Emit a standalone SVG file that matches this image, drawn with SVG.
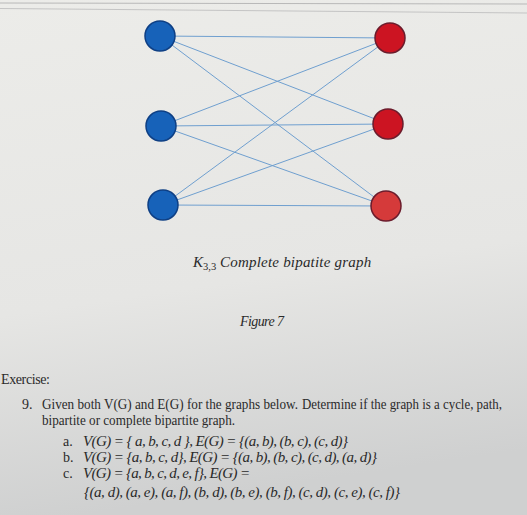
<svg xmlns="http://www.w3.org/2000/svg" width="527" height="515" viewBox="0 0 527 515">
<defs>
<linearGradient id="bg" x1="0" y1="0" x2="0.15" y2="1">
<stop offset="0" stop-color="#ecece9"/>
<stop offset="0.6" stop-color="#e6e6e4"/>
<stop offset="1" stop-color="#cfd0d0"/>
</linearGradient>
<style>
.edge{stroke:#6f9fcf;stroke-width:1;fill:none}
.blue{fill:#1762b9;stroke:#0e3f84;stroke-width:1.5}
.red{fill:#cc1422;stroke:#6b1c2c;stroke-width:1.5}
.red2{fill:#d53a3a;stroke:#6b1c2c;stroke-width:1.5}
.t{font-family:"Liberation Serif",serif;font-size:14px;fill:#2a2a2a}
.m{font-family:"Liberation Serif",serif;font-style:italic;font-size:15px;fill:#2a2a2a}
</style>
</defs>
<rect width="527" height="515" fill="url(#bg)"/>
<line x1="0" y1="3" x2="527" y2="4" stroke="#b8b8b8" stroke-width="1"/>
<line x1="0" y1="8.5" x2="527" y2="13" stroke="#c4c4c4" stroke-width="1"/>
<g id="connectors">
<line class="edge" x1="160" y1="36" x2="390" y2="38"/>
<line class="edge" x1="160" y1="36" x2="388" y2="124"/>
<line class="edge" x1="160" y1="36" x2="386" y2="206"/>
<line class="edge" x1="161" y1="126" x2="390" y2="38"/>
<line class="edge" x1="161" y1="126" x2="388" y2="124"/>
<line class="edge" x1="161" y1="126" x2="386" y2="206"/>
<line class="edge" x1="163" y1="205" x2="390" y2="38"/>
<line class="edge" x1="163" y1="205" x2="388" y2="124"/>
<line class="edge" x1="163" y1="205" x2="386" y2="206"/>
</g>
<g id="node-l1"><circle class="blue" cx="160" cy="36" r="15"/></g>
<g id="node-l2"><circle class="blue" cx="161" cy="126" r="15"/></g>
<g id="node-l3"><circle class="blue" cx="163" cy="205" r="15"/></g>
<g id="node-r1"><circle class="red" cx="390" cy="38" r="15"/></g>
<g id="node-r2"><circle class="red" cx="388" cy="124" r="15"/></g>
<g id="node-r3"><circle class="red2" cx="386" cy="206" r="15"/></g>
<text class="m" x="193" y="267" font-size="16">K<tspan font-size="10.5" dy="3" font-style="normal">3,3</tspan><tspan dy="-3" textLength="155"> Complete bipatite graph</tspan></text>
<text class="t" x="240" y="326" font-style="italic" font-size="14" textLength="44">Figure 7</text>
<text class="t" x="1" y="384" textLength="49">Exercise:</text>
<text class="t" x="22" y="409">9.</text>
<text class="t" x="42" y="409" font-size="13.5" textLength="256" lengthAdjust="spacingAndGlyphs">Given both V(G) and E(G) for the graphs below.</text>
<text class="t" x="302" y="409" font-size="13.5" textLength="200" lengthAdjust="spacingAndGlyphs">Determine if the graph is a cycle, path,</text>
<text class="t" x="42" y="425" textLength="193" lengthAdjust="spacingAndGlyphs">bipartite or complete bipartite graph.</text>
<text class="t" x="63" y="446">a.</text>
<text class="m" x="83" y="446" textLength="265">V(G) = { a, b, c, d }, E(G) = {(a, b), (b, c), (c, d)}</text>
<text class="t" x="63" y="462">b.</text>
<text class="m" x="83" y="462" textLength="294">V(G) = {a, b, c, d}, E(G) = {(a, b), (b, c), (c, d), (a, d)}</text>
<text class="t" x="63" y="478">c.</text>
<text class="m" x="83" y="478" textLength="167">V(G) = {a, b, c, d, e, f}, E(G) =</text>
<text class="m" x="84" y="497" textLength="316">{(a, d), (a, e), (a, f), (b, d), (b, e), (b, f), (c, d), (c, e), (c, f)}</text>
</svg>
